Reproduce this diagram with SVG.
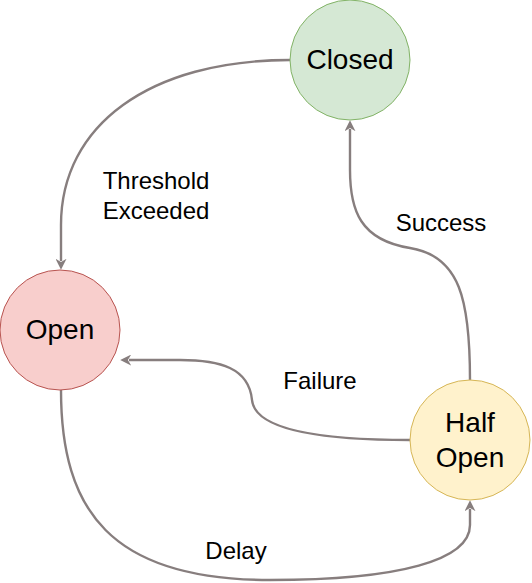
<svg xmlns="http://www.w3.org/2000/svg" width="532" height="583" viewBox="0 0 532 583">
<defs>
<style>
.node text{font-family:"Liberation Sans",Arial,sans-serif;font-size:28px;fill:#000;text-anchor:middle}
.lbl{font-family:"Liberation Sans",Arial,sans-serif;font-size:24px;fill:#000;text-anchor:middle}
.edge{fill:none;stroke:#877e7e;stroke-width:2.4;marker-end:url(#arr)}
</style>
<marker id="arr" viewBox="0 0 10 10" refX="2" refY="5" markerWidth="11" markerHeight="11" markerUnits="userSpaceOnUse" orient="auto">
<path d="M0,0 L10,5 L0,10 L3,5 z" fill="#877e7e"/>
</marker>
</defs>
<rect width="532" height="583" fill="#fff"/>
<g id="connectors">
<path class="edge" d="M290 60 C 150 60 61 125 61 225 L61 261"/>
<path class="edge" d="M470 380 C 470 300 460 256 410 248 C 360 240 350 210 350 170 L350 129"/>
<path class="edge" d="M410 440 C 330 440 255 432 252 400 C 249 368 220 360 180 360 L129 360"/>
<path class="edge" d="M61 390 C 61 510 110 580 270 580 C 400 580 470 560 470 525 L470 509"/>
</g>
<g id="labels">
<text class="lbl" x="156" y="189">Threshold</text>
<text class="lbl" x="156" y="219">Exceeded</text>
<text class="lbl" x="441" y="231">Success</text>
<text class="lbl" x="320" y="389">Failure</text>
<text class="lbl" x="236" y="559">Delay</text>
</g>
<g id="closed" class="node">
<circle cx="350" cy="60" r="60" fill="#d5e8d4" stroke="#82b366"/>
<text x="350" y="69">Closed</text>
</g>
<g id="open" class="node">
<circle cx="60" cy="330" r="60" fill="#f8cecc" stroke="#b85450"/>
<text x="60" y="339">Open</text>
</g>
<g id="halfopen" class="node">
<circle cx="470" cy="440" r="60" fill="#fff2cc" stroke="#d6b656"/>
<text x="470" y="432">Half</text>
<text x="470" y="467">Open</text>
</g>
</svg>
